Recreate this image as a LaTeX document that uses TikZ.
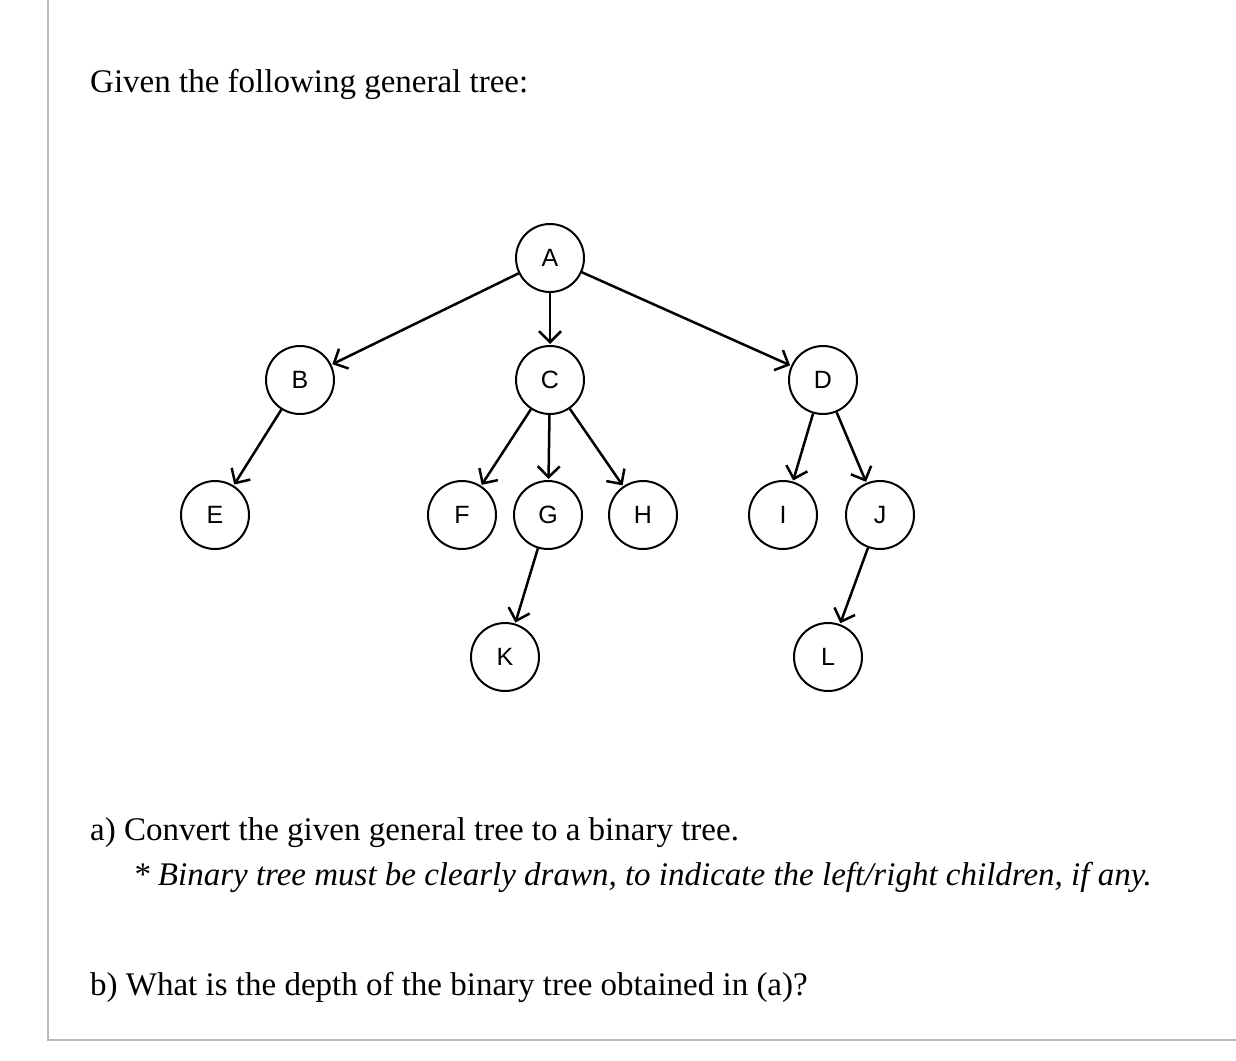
\documentclass[tikz,border=0pt]{standalone}
\usepackage{fontspec}
\setmainfont{Liberation Serif}
\newfontfamily\nodefont{Liberation Sans}
\usetikzlibrary{arrows.meta}
\begin{document}
\begin{tikzpicture}[x=1pt,y=-1pt,
  tn/.style={circle,draw,line width=2pt,minimum size=68pt,inner sep=0pt,font=\nodefont\fontsize{25}{29}\selectfont},
  ed/.style={line width=2.5pt,-{Straight Barb[length=11pt,width=22pt,line width=2.5pt]},shorten >=1pt},
  txt/.style={anchor=base west,inner sep=0pt,font=\fontsize{33}{38}\selectfont}]
\useasboundingbox (0,0) rectangle (1236,1060);
\coordinate (t) at (48,0); \coordinate (c) at (48,1040); \coordinate (r) at (1236,1040);
\draw[gray!55,line width=1.5pt] (t) -- (c) -- (r);
\node[txt] (g) at (90,92) {Given the following general tree:};
\node[tn] (A) at (550,258) {A};
\node[tn] (B) at (300,380) {B};
\node[tn] (C) at (550,380) {C};
\node[tn] (D) at (823,380) {D};
\node[tn] (E) at (215,515) {E};
\node[tn] (F) at (462,515) {F};
\node[tn] (G) at (548,515) {G};
\node[tn] (H) at (643,515) {H};
\node[tn] (I) at (783,515) {I};
\node[tn] (J) at (880,515) {J};
\node[tn] (K) at (505,657) {K};
\node[tn] (L) at (828,657) {L};
\foreach \a/\b in {A/B,A/C,A/D,B/E,C/F,C/G,C/H,D/I,D/J,G/K,J/L}
  \draw[ed] (\a) -- (\b);
\node[txt] (pa) at (90,840) {a) Convert the given general tree to a binary tree.};
\node[txt] (pn) at (133,885) {\itshape * Binary tree must be clearly drawn, to indicate the left/right children, if any.};
\node[txt] (pb) at (90,995) {b) What is the depth of the binary tree obtained in (a)?};
\end{tikzpicture}
\end{document}
